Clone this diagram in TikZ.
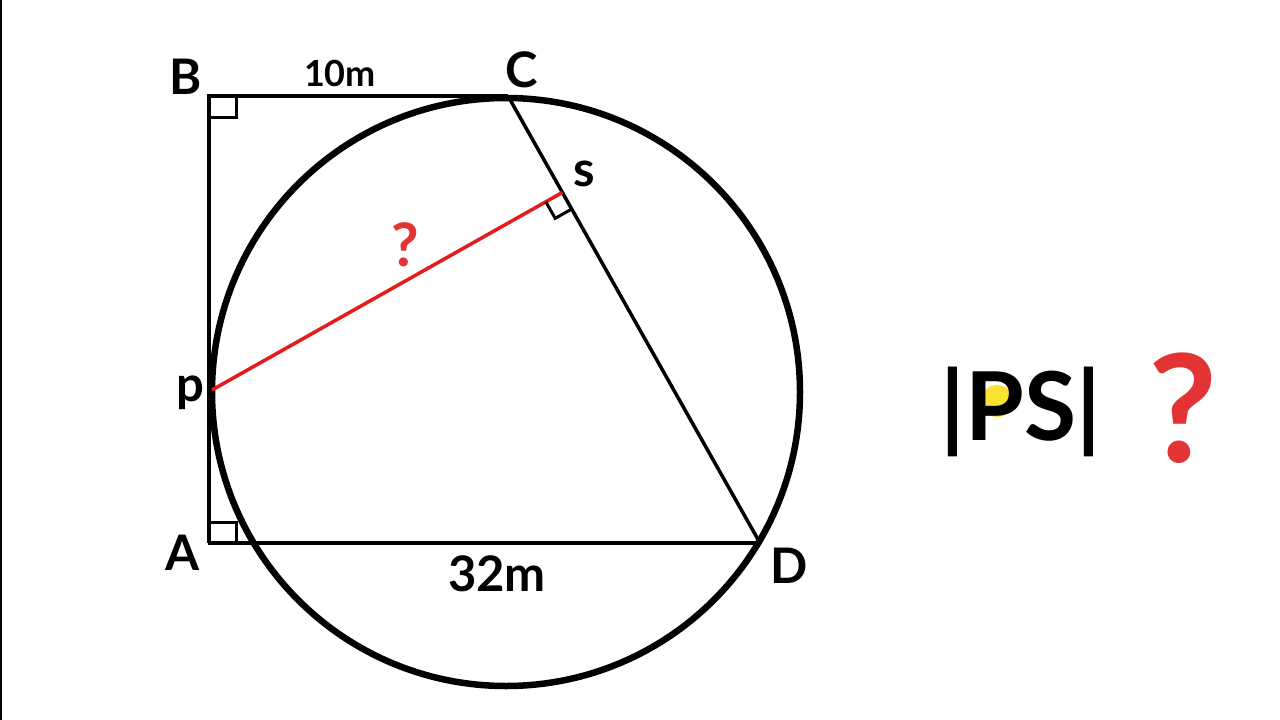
\documentclass[tikz,border=0pt]{standalone}
\usepackage{fontspec}
\setmainfont{Lato}
\usetikzlibrary{calc}
\definecolor{psred}{RGB}{228,28,28}
\definecolor{qred}{RGB}{226,52,52}
\definecolor{hlyellow}{RGB}{250,226,50}
\begin{document}
\begin{tikzpicture}[x=1pt,y=-1pt,
  geo/.style={line width=3.5pt,black},
  ramark/.style={line width=3pt,black},
  circ/.style={line width=6.5pt,black},
  redline/.style={line width=3.5pt,psred},
  lbl/.style={font=\fontsize{49}{49}\selectfont\bfseries, inner sep=0pt},
  lblsm/.style={font=\fontsize{36}{36}\selectfont\bfseries, inner sep=0pt},
  qsmall/.style={font=\fontsize{60}{60}\selectfont\bfseries, text=qred, inner sep=0pt},
  qbig/.style={font=\fontsize{150}{150}\selectfont\bfseries, text=qred, inner sep=0pt},
  titletxt/.style={font=\fontsize{95}{95}\selectfont\bfseries, inner sep=0pt}]
\fill[white] (0,0) rectangle (1280,720);
\useasboundingbox (0,0) rectangle (1280,720);
\draw[line width=1.5pt] (0.75,0) -- (0.75,720);

\coordinate (O) at (506,392);
\coordinate (B) at (209,96);
\coordinate (A) at (209,543);
\coordinate (C) at (508,96);
\coordinate (D) at (760,543);
\coordinate (P) at (212,390);
\coordinate (S) at ($(C)!(P)!(D)$);
\coordinate (s1) at ($(S)!19pt!(P)$);
\coordinate (s2) at ($(S)!19pt!(D)$);
\coordinate (s3) at ($(s1)+(s2)-(S)$);

\draw[circ] (O) circle[radius=294pt];
\draw[geo] (A) -- (B) -- (C);
\draw[geo] (A) -- (D);
\draw[geo] (C) -- (D);
\draw[redline] (P) -- (S);
\draw[ramark] (B) rectangle ++(27,21);
\draw[ramark] (A) rectangle ++(27,-21);
\draw[ramark] (s1) -- (s3) -- (s2);

\node[lbl] (lB) at (186,77) {B};
\node[lbl] (lC) at (522,70) {C};
\node[lblsm] (l10) at (340,73) {10m};
\node[lbl] (lS) at (584,174) {s};
\node[lbl] (lP) at (190,393) {p};
\node[lbl] (lA) at (183,553) {A};
\node[lbl] (lD) at (789,566) {D};
\node[lbl] (l32) at (497,574) {32m};
\node[qsmall] (q1) at (405,245) {?};

\fill[hlyellow] (997,401) circle[radius=16pt];
\node[titletxt, anchor=base] (ps) at (1021,440) {|PS|};
\node[qbig] (q2) at (1183,408) {?};
\end{tikzpicture}
\end{document}
